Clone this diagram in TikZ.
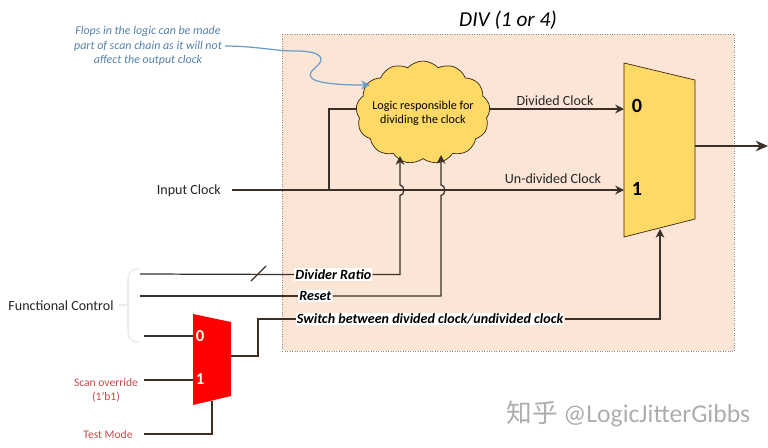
\documentclass[tikz,border=0pt]{standalone}
\usepackage{fontspec}
\setmainfont{Carlito}
\newfontfamily\cjkfont{Noto Sans CJK SC}
\usetikzlibrary{shapes.symbols, arrows.meta, positioning, calc}
\definecolor{divfill}{HTML}{FBE5D6}
\definecolor{muxgold}{HTML}{FFD966}
\definecolor{wirecol}{HTML}{3B3028}
\definecolor{notecol}{HTML}{5580A8}
\definecolor{curvecol}{HTML}{6A9CCB}
\definecolor{scanred}{HTML}{C8484A}
\begin{document}
\begin{tikzpicture}[
    x=0.02cm, y=-0.02cm,
    font=\fontsize{8}{10}\selectfont,
    wire/.style={draw=wirecol, line width=0.7pt},
    arrow/.style={wire, -{Stealth[length=5pt, width=5pt]}},
    sig/.style={fill=white, inner sep=0.6pt, font=\fontsize{8}{10}\selectfont\bfseries\itshape},
    lbl/.style={inner sep=1pt, text=black!85},
    redlbl/.style={inner sep=1pt, text=scanred, align=center, font=\fontsize{6.6}{8}\selectfont},
    muxnum/.style={inner sep=0pt, font=\fontsize{11.5}{12}\selectfont\bfseries},
    scannum/.style={inner sep=0pt, text=white!90!yellow, font=\fontsize{9.5}{10}\selectfont\bfseries},
    jump/.style={x radius=2.2pt, y radius=3pt, start angle=-90, end angle=90}
]
    \useasboundingbox (0,0) rectangle (768,447);

    % divider block
    \node[draw=black!45, densely dotted, fill=divfill, line width=0.4pt, minimum width=9.04cm, minimum height=6.34cm, inner sep=0pt, anchor=north west] (div) at (282,34) {};
    \node[inner sep=1pt, font=\fontsize{12.1}{14}\selectfont\itshape] (divtitle) at (508,20) {DIV (1 or 4)};

    % cloud and the two muxes
    \node[cloud, cloud puffs=13, cloud puff arc=95, aspect=1.35, draw=black!70!brown, fill=muxgold, line width=0.4pt, minimum width=2.68cm, minimum height=2.06cm, inner sep=0pt] (logic) at (423,112.5) {};
    \node[inner sep=0pt, align=center, font=\fontsize{6.9}{8.1}\selectfont] (logictext) at (423,113) {Logic responsible for\\dividing the clock};

    \path[draw=black!70!brown, fill=muxgold, line width=0.4pt] (624,63) -- (695,80) -- (695,219) -- (624,237) -- cycle;
    \path[fill=red] (193,314) -- (231,322) -- (231,396) -- (193,405) -- cycle;

    \node[muxnum] (zero) at (637,106) {0};
    \node[muxnum] (one) at (637,189) {1};
    \node[scannum] (szero) at (200,336) {0};
    \node[scannum] (sone) at (200,379) {1};

    % free ends of the wires
    \coordinate (muxin0) at (624,109);
    \coordinate (muxin1) at (624,190);
    \coordinate (muxout) at (695,146);
    \coordinate (out) at (768,146);
    \coordinate (tap) at (329,190);
    \coordinate (ratioin) at (140,274);
    \coordinate (resetin) at (140,296);
    \coordinate (funcin) at (144,336);
    \coordinate (scanin) at (144,380);
    \coordinate (testin) at (144,434);

    % labels
    \node[lbl, anchor=east] (clkin) at (223,191) {Input Clock};
    \node[lbl] (divided) at (555,101) {Divided Clock};
    \node[lbl] (undivided) at (553,179) {Un-divided Clock};
    \node[lbl] (func) at (61,306) {Functional Control};
    \node[redlbl] (scan) at (106,390.5) {Scan override\\(1'b1)};
    \node[redlbl] (test) at (108,434.5) {Test Mode};
    \node[sig, anchor=west] (ratio) at (294,274.5) {Divider Ratio};
    \node[sig, anchor=west] (reset) at (298,296) {Reset};
    \node[sig, anchor=west] (switch) at (295.5,319) {Switch between divided clock/undivided clock};

    % clock path
    \draw[arrow] (232,190) -- (muxin1);
    \draw[wire] (tap) |- (logic.west |- muxin0);
    \draw[arrow] (logic.east |- muxin0) -- (muxin0);
    \draw[wire, -{Stealth[length=7pt, width=6pt]}] (muxout) -- (out);

    % controls
    \draw[wire] (ratioin) -- (ratio.west);
    \draw[wire] (resetin) -- (reset.west);
    \draw[arrow] (ratio.east) -| (400,195.5) arc[jump] -- (400,156);
    \draw[arrow] (reset.east) -| (441,195.5) arc[jump] -- (441,155);
    \draw[wire] (251,281) -- (266,266);
    \draw[arrow] (switch.east) -| (660,229);

    % test mux
    \draw[wire] (funcin) -- (193,336);
    \draw[wire] (scanin) -- (193,380);
    \draw[wire] (testin) -| (212,401);
    \draw[wire] (231,356) -| (258,319) -- (switch.west);

    % brace
    \draw[black!8, line width=0.9pt] (139,269) .. controls (130,269) and (128,273) .. (128,282) -- (128,328) .. controls (128,338) and (130,342) .. (139,342);
    \draw[black!8, line width=0.7pt] (119,305) -- (128,305);

    % note
    \node[inner sep=0pt, align=center, text=notecol, font=\fontsize{6.8}{8.1}\selectfont\itshape] (note) at (148,46) {Flops in the logic can be made\\part of scan chain as it will not\\affect the output clock};
    \draw[curvecol, line width=0.7pt, -{Stealth[length=5pt, width=5pt]}] (note.east) ++(3,0) .. controls (255,46) and (275,51) .. (295,51) .. controls (325,51) and (325,60) .. (315,68) .. controls (300,80) and (320,85) .. (370,85);

    % watermark
    \node[inner sep=0pt, anchor=west, text=black!32, font=\fontsize{14.6}{16}\selectfont] (mark) at (506,414) {{\cjkfont 知乎} @LogicJitterGibbs};
\end{tikzpicture}
\end{document}
